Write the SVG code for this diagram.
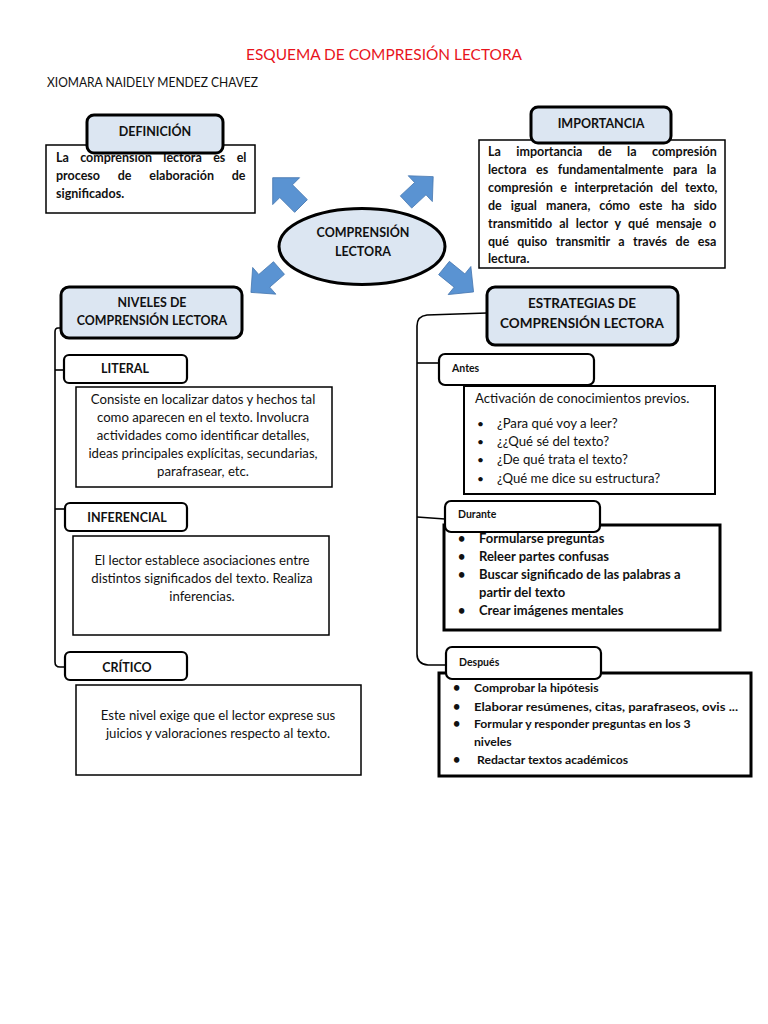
<svg xmlns="http://www.w3.org/2000/svg" width="768" height="1024" viewBox="0 0 768 1024">
<defs>
<style>
text{font-family:Lato,"Liberation Sans",sans-serif;fill:#111}
.title{font-size:16px;fill:#e8141c}
.author{font-size:12.5px}
.hb{font-weight:bold;font-size:12.5px}
.body{font-size:13.2px}
.bb{font-size:12.5px;font-weight:bold}
.jb{font-size:12.5px;font-weight:bold}
.lab{font-size:10.5px;font-weight:bold}
.mid{text-anchor:middle}
.hdr{fill:#dce6f2;stroke:#000;stroke-width:3}
.tbox{fill:#fff;stroke:#000;stroke-width:1.5}
.tbox2{fill:#fff;stroke:#000;stroke-width:3}
.lbox{fill:#fff;stroke:#000;stroke-width:2.2}
.arrow{fill:#5a93d2;stroke:#4677b0;stroke-width:0.8}
.conn{fill:none;stroke:#000;stroke-width:1.6}
</style>
<path id="blk" d="M0,-9 L21,-9 L21,-19 L40,0 L21,19 L21,9 L0,9 Z"/>
</defs>
<rect width="768" height="1024" fill="#fff"/>
<text class="title mid" x="384" y="60" textLength="276" lengthAdjust="spacingAndGlyphs">ESQUEMA DE COMPRESIÓN LECTORA</text>
<text class="author" x="47" y="87" textLength="211" lengthAdjust="spacingAndGlyphs">XIOMARA NAIDELY MENDEZ CHAVEZ</text>

<g id="connectors">
<path class="conn" d="M61,328 L58,328 Q55,328 55,332 L55,662 Q55,667 60,667 L65,667"/>
<path class="conn" d="M55,370 L64,370"/>
<path class="conn" d="M55,509 L65,509"/>
<path class="conn" d="M487,313 L427,315 Q417,316 417,326 L417,654 Q417,664 428,665 L446,665"/>
<path class="conn" d="M417,363 L439,363"/>
<path class="conn" d="M417,517 L445,519"/>
<use href="#blk" class="arrow" transform="translate(301,206) rotate(-135)"/>
<use href="#blk" class="arrow" transform="translate(406,202) rotate(-43) scale(0.93)"/>
<use href="#blk" class="arrow" transform="translate(279,268) rotate(139) scale(0.93)"/>
<use href="#blk" class="arrow" transform="translate(444,268) rotate(39) scale(0.95)"/>
</g>

<g id="definicion">
<rect class="tbox" x="46" y="145" width="209" height="68"/>
<text class="jb" x="56" y="162" style="word-spacing:8.3px">La comprensión lectora es el</text>
<text class="jb" x="56" y="180" style="word-spacing:14.7px">proceso de elaboración de</text>
<text class="jb" x="56" y="198">significados.</text>
<rect class="hdr" x="87" y="115" width="136" height="38" rx="7"/>
<text class="hb mid" x="155" y="136">DEFINICIÓN</text>
</g>

<g id="importancia">
<rect class="tbox" x="479" y="140" width="246" height="128"/>
<text class="jb" x="488" y="156" style="word-spacing:12.4px">La importancia de la compresión</text>
<text class="jb" x="488" y="174" style="word-spacing:6.5px">lectora es fundamentalmente para la</text>
<text class="jb" x="488" y="192" style="word-spacing:4.5px">compresión e interpretación del texto,</text>
<text class="jb" x="488" y="210" style="word-spacing:5.9px">de igual manera, cómo este ha sido</text>
<text class="jb" x="488" y="228" style="word-spacing:4.1px">transmitido al lector y qué mensaje o</text>
<text class="jb" x="488" y="246" style="word-spacing:5.4px">qué quiso transmitir a través de esa</text>
<text class="jb" x="488" y="263">lectura.</text>
<rect class="hdr" x="531" y="107" width="140" height="36" rx="7"/>
<text class="hb mid" x="601" y="128">IMPORTANCIA</text>
</g>

<g id="comprension">
<ellipse cx="362" cy="246.5" rx="83" ry="38" fill="#dce6f2" stroke="#000" stroke-width="3"/>
<text class="hb mid" x="363" y="237">COMPRENSIÓN</text>
<text class="hb mid" x="363" y="256">LECTORA</text>
</g>

<g id="niveles">
<rect class="hdr" x="61" y="287" width="181" height="51" rx="8"/>
<text class="hb mid" x="152" y="307" style="font-size:12.4px">NIVELES DE</text>
<text class="hb mid" x="152" y="325" style="font-size:12.4px">COMPRENSIÓN LECTORA</text>
</g>

<g id="literal">
<rect class="lbox" x="64" y="355" width="123" height="28" rx="5"/>
<text class="hb mid" x="125" y="373">LITERAL</text>
</g>
<g id="literal-texto">
<rect class="tbox" x="76" y="387" width="256" height="100"/>
<text class="body mid" x="203" y="404">Consiste en localizar datos y hechos tal</text>
<text class="body mid" x="203" y="422">como aparecen en el texto. Involucra</text>
<text class="body mid" x="203" y="440">actividades como identificar detalles,</text>
<text class="body mid" x="203" y="458">ideas principales explícitas, secundarias,</text>
<text class="body mid" x="203" y="476">parafrasear, etc.</text>
</g>

<g id="inferencial">
<rect class="lbox" x="65" y="503" width="122" height="28" rx="5"/>
<text class="hb mid" x="127" y="522">INFERENCIAL</text>
</g>
<g id="inferencial-texto">
<rect class="tbox" x="73" y="536" width="256" height="99"/>
<text class="body mid" x="202" y="565">El lector establece asociaciones entre</text>
<text class="body mid" x="202" y="583">distintos significados del texto. Realiza</text>
<text class="body mid" x="202" y="601">inferencias.</text>
</g>

<g id="critico">
<rect class="lbox" x="65" y="652" width="122" height="28" rx="5"/>
<text class="hb mid" x="127" y="672">CRÍTICO</text>
</g>
<g id="critico-texto">
<rect class="tbox" x="76" y="685" width="285" height="90"/>
<text class="body mid" x="218" y="720">Este nivel exige que el lector exprese sus</text>
<text class="body mid" x="218" y="738">juicios y valoraciones respecto al texto.</text>
</g>

<g id="estrategias">
<rect class="hdr" x="487" y="287" width="191" height="58" rx="8"/>
<text class="hb mid" x="582" y="308" style="font-size:13.5px">ESTRATEGIAS DE</text>
<text class="hb mid" x="582" y="328" style="font-size:13.5px">COMPRENSIÓN LECTORA</text>
</g>

<g id="antes">
<rect class="tbox" x="464" y="386" width="251" height="108" style="stroke-width:2"/>
<text class="body" x="475" y="403">Activación de conocimientos previos.</text>
<text class="body" x="477" y="428" style="font-size:12px">•</text><text class="body" x="497" y="428">¿Para qué voy a leer?</text>
<text class="body" x="477" y="446" style="font-size:12px">•</text><text class="body" x="497" y="446">¿¿Qué sé del texto?</text>
<text class="body" x="477" y="464" style="font-size:12px">•</text><text class="body" x="497" y="464">¿De qué trata el texto?</text>
<text class="body" x="477" y="483" style="font-size:12px">•</text><text class="body" x="497" y="483">¿Qué me dice su estructura?</text>
<rect class="lbox" x="439" y="354" width="155" height="31" rx="6"/>
<text class="lab" x="452" y="372">Antes</text>
</g>

<g id="durante">
<rect class="tbox2" x="444" y="525" width="276" height="105"/>
<text class="bb" x="458" y="543">•</text><text class="bb" x="479" y="543" style="font-size:13px">Formularse preguntas</text>
<text class="bb" x="458" y="561">•</text><text class="bb" x="479" y="561" style="font-size:13px">Releer partes confusas</text>
<text class="bb" x="458" y="579">•</text><text class="bb" x="479" y="579" style="font-size:13px">Buscar significado de las palabras a</text>
<text class="bb" x="479" y="597" style="font-size:13px">partir del texto</text>
<text class="bb" x="458" y="615">•</text><text class="bb" x="479" y="615" style="font-size:13px">Crear imágenes mentales</text>
<rect class="lbox" x="445" y="501" width="155" height="31" rx="6"/>
<text class="lab" x="458" y="518">Durante</text>
</g>

<g id="despues">
<rect class="tbox2" x="439" y="673" width="312" height="103"/>
<text class="bb" x="453" y="692">•</text><text class="bb" x="474" y="692" style="font-size:12.2px">Comprobar la hipótesis</text>
<text class="bb" x="453" y="711">•</text><text class="bb" x="474" y="711" style="font-size:12.2px" textLength="264" lengthAdjust="spacingAndGlyphs">Elaborar resúmenes, citas, parafraseos, ovis ...</text>
<text class="bb" x="453" y="728">•</text><text class="bb" x="474" y="728" style="font-size:12.2px">Formular y responder preguntas en los 3</text>
<text class="bb" x="474" y="746" style="font-size:12.2px">niveles</text>
<text class="bb" x="453" y="764">•</text><text class="bb" x="477" y="764" style="font-size:12.2px">Redactar textos académicos</text>
<rect class="lbox" x="446" y="647" width="155" height="32" rx="6"/>
<text class="lab" x="459" y="666">Después</text>
</g>
</svg>
